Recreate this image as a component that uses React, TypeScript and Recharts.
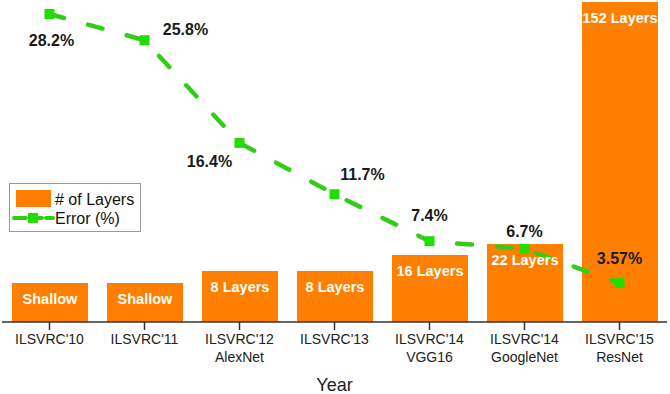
import { ComposedChart, Bar, Line, XAxis, YAxis, LabelList, Legend } from 'recharts';

const categories = [
  "ILSVRC'10",
  "ILSVRC'11",
  "ILSVRC'12\nAlexNet",
  "ILSVRC'13",
  "ILSVRC'14\nVGG16",
  "ILSVRC'14\nGoogleNet",
  "ILSVRC'15\nResNet",
];
// bar heights as drawn (on a 0..152 layer scale)
const layerHeights = [18.5, 18.5, 24.2, 24.2, 31.8, 37, 152];
const layerLabels = ['Shallow', 'Shallow', '8 Layers', '8 Layers', '16 Layers', '22 Layers', '152 Layers'];
const errors = [28.2, 25.8, 16.4, 11.7, 7.4, 6.7, 3.57];
const errorLabels = ['28.2%', '25.8%', '16.4%', '11.7%', '7.4%', '6.7%', '3.57%'];

const data = categories.map((c, i) => ({
  name: c,
  layers: layerHeights[i],
  layerLabel: layerLabels[i],
  error: errors[i],
  errorLabel: errorLabels[i],
}));

const COLORS = {
  bar: '#ff8000',
  line: '#33cc1a',
  marker: '#22dd00',
  text: '#1a1a1a',
  axis: '#333333',
};

const FONT = '"Liberation Sans", Arial, sans-serif';

// where each error label sits relative to its point
const ERR_OFFSETS = [
  [2, 26],
  [41, -11],
  [-30, 19],
  [28, -20],
  [0, -26],
  [0, -17],
  [0, -25],
];

function XTick(props: any) {
  const { x, y, payload } = props;
  const lines = String(payload.value).split('\n');
  return (
    <text x={x} y={y} textAnchor="middle" fill="#222" fontSize={14} fontFamily={FONT}>
      {lines.map((l, i) => (
        <tspan key={i} x={x} dy={i === 0 ? 14 : 18}>
          {l}
        </tspan>
      ))}
    </text>
  );
}

function SquareDot(props: any) {
  const { cx, cy } = props;
  if (cx == null || cy == null) return null;
  return <rect x={cx - 5} y={cy - 5} width={10} height={10} fill={COLORS.marker} />;
}

function BarLabel(props: any) {
  const { x, y, width, value } = props;
  return (
    <text
      x={x + width / 2}
      y={y + 16}
      textAnchor="middle"
      dominantBaseline="central"
      fill="#fff"
      fontSize={14.5}
      fontWeight="bold"
      fontFamily={FONT}
    >
      {value}
    </text>
  );
}

function ErrLabel(props: any) {
  const { x, y, value, index } = props;
  const [dx, dy] = ERR_OFFSETS[index] || [0, -20];
  return (
    <text
      x={x + dx}
      y={y + dy}
      textAnchor="middle"
      dominantBaseline="central"
      fill={COLORS.text}
      fontSize={16}
      fontWeight="bold"
      fontFamily={FONT}
    >
      {value}
    </text>
  );
}

function LegendBox() {
  return (
    <div
      style={{
        border: '1px solid #999',
        background: '#fff',
        width: 130,
        height: 47,
        position: 'relative',
      }}
    >
      <svg width={130} height={47} style={{ position: 'absolute', left: 0, top: 0 }}>
        <rect x={6} y={6} width={35} height={17} fill={COLORS.bar} />
        <text x={45} y={15} dominantBaseline="central" fontSize={16} fontFamily={FONT} fill="#111">
          # of Layers
        </text>
        <line x1={4} y1={34} x2={43} y2={34} stroke={COLORS.line} strokeWidth={4} strokeDasharray="12 4" strokeLinecap="round" />
        <rect x={18} y={29} width={10} height={10} fill={COLORS.marker} />
        <text x={45} y={34} dominantBaseline="central" fontSize={16} fontFamily={FONT} fill="#111">
          Error (%)
        </text>
      </svg>
    </div>
  );
}

export default function App() {
  return (
    <div style={{ position: 'absolute', left: 0, top: 0 }}>
      <ComposedChart
        width={670}
        height={394}
        data={data}
        margin={{ top: 2, right: 3, left: 2, bottom: 0 }}
        barSize={76}
      >
        <XAxis
          dataKey="name"
          interval={0}
          height={72}
          tick={<XTick />}
          tickSize={8}
          tickMargin={0}
          stroke={COLORS.axis}
          axisLine={{ stroke: COLORS.axis, strokeWidth: 1.5 }}
          tickLine={{ stroke: COLORS.axis, strokeWidth: 1.5 }}
          label={{ value: 'Year', position: 'insideBottom', offset: 3, fontSize: 18, fill: '#222', fontFamily: FONT }}
        />
        <YAxis yAxisId="layers" hide domain={[0, 152]} allowDataOverflow />
        <YAxis yAxisId="err" hide domain={[0, 29.3]} allowDataOverflow orientation="right" />
        <Legend
          layout="vertical"
          align="center"
          verticalAlign="middle"
          wrapperStyle={{ left: 9, top: 183, width: 132, height: 49 }}
          content={<LegendBox />}
        />
        <Bar yAxisId="layers" dataKey="layers" fill={COLORS.bar} isAnimationActive={false}>
          <LabelList dataKey="layerLabel" content={<BarLabel />} />
        </Bar>
        <Line
          yAxisId="err"
          type="linear"
          dataKey="error"
          stroke={COLORS.line}
          strokeWidth={4.5}
          strokeDasharray="15 25"
          strokeLinecap="round"
          dot={<SquareDot />}
          activeDot={false}
          isAnimationActive={false}
        >
          <LabelList dataKey="errorLabel" content={<ErrLabel />} />
        </Line>
      </ComposedChart>
    </div>
  );
}
